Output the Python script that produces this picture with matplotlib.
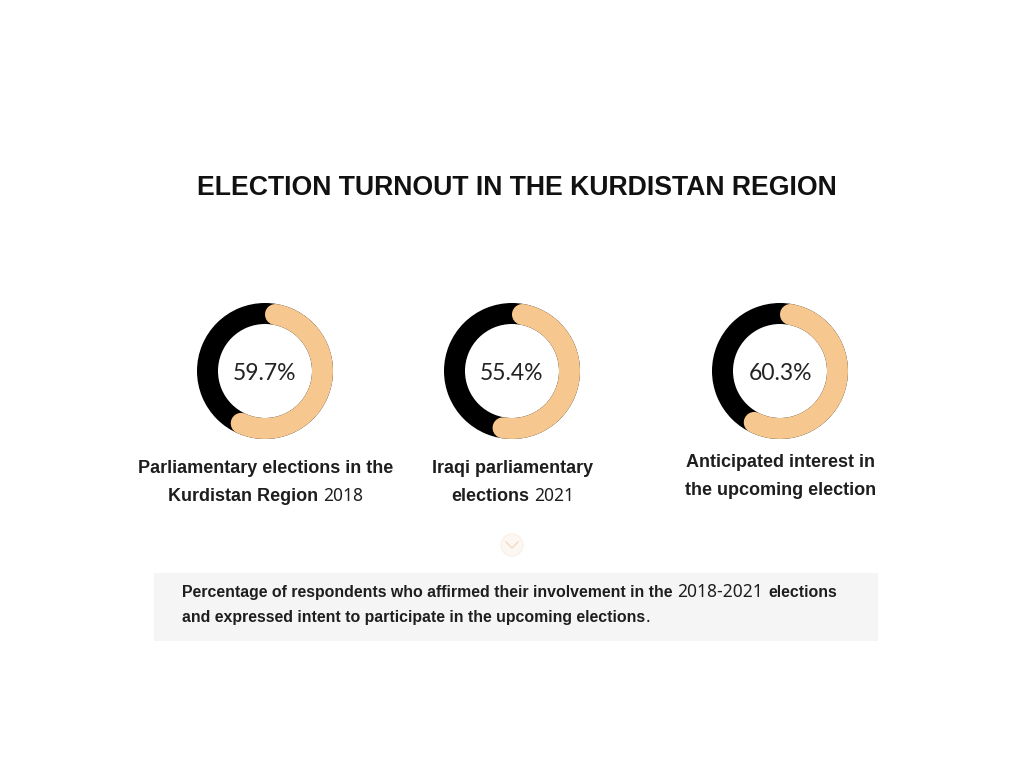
import numpy as np
import matplotlib.pyplot as plt
from matplotlib.patches import Wedge, Circle, Rectangle

# data
percents = [59.7, 55.4, 60.3]
pct_labels = ['59.7%', '55.4%', '60.3%']
label_lines = [
    [[('Parliamentary elections in the', 'b')], [('Kurdistan Region', 'b'), ('2018', 'n')]],
    [[('Iraqi parliamentary', 'b')], [('elections', 'b'), ('2021', 'n')]],
    [[('Anticipated interest in', 'b')], [('the upcoming election', 'b')]],
]
title = 'ELECTION TURNOUT IN THE KURDISTAN REGION'
note_lines = [
    [('Percentage of respondents who affirmed their involvement in the', 'c'), ('2018-2021', 'n'), ('elections', 'c')],
    [('and expressed intent to participate in the upcoming elections', 'c'), ('.', 'n')],
]

orange = '#f6c78e'
W, H = 1024, 768
fig = plt.figure(figsize=(W / 100, H / 100), dpi=100)
ax = fig.add_axes([0, 0, 1, 1])
ax.set_xlim(0, W)
ax.set_ylim(H, 0)
ax.axis('off')
renderer = fig.canvas.get_renderer()

fonts = {
    'b': dict(family=['Liberation Sans', 'DejaVu Sans'], weight='bold', fontsize=13.0, color='#1e1e1e'),
    'n': dict(family=['Noto Sans', 'DejaVu Sans'], fontsize=12.5, color='#1e1e1e'),
    'c': dict(family=['Liberation Sans Narrow', 'Liberation Sans'], weight='bold', fontsize=11.45, color='#1e1e1e'),
}


def draw_runs(x, y, runs, ha='center', gap=5):
    # place text runs with different fonts one after another
    items = []
    for s, f in runs:
        t = ax.text(0, y, s, va='baseline', ha='left', **fonts[f])
        w = t.get_window_extent(renderer).width
        items.append((t, w))
    total = sum(w for _, w in items) + gap * (len(items) - 1)
    cx = x - total / 2 if ha == 'center' else x
    for t, w in items:
        t.set_x(cx)
        cx += w + gap


ax.text(517, 195, title, ha='center', va='baseline', fontsize=19.2,
        fontweight='bold', family='Liberation Sans', color='#111111')

centers_x = [265, 512, 780]
cy = 371
r_out, width = 68, 21
r_mid = r_out - width / 2
cap = np.degrees((width / 2) / r_mid)
lw = width * 0.72
for cx, p, lab in zip(centers_x, percents, pct_labels):
    ax.add_patch(Wedge((cx, cy), r_out, 0, 360, width=width, color='black', lw=0))
    a0 = 90 - cap
    a1 = 90 - p / 100 * 360 + cap
    ang = np.radians(np.linspace(a0, a1, 200))
    ax.plot(cx + r_mid * np.cos(ang), cy - r_mid * np.sin(ang), color=orange,
            lw=lw, solid_capstyle='round')
    ax.text(cx, cy + 9, lab, ha='center', va='baseline', fontsize=16.5,
            family='Lato', color='#222222')

label_y = [[473, 501], [473, 501], [467, 495]]
for cx, lines, ys in zip(centers_x, label_lines, label_y):
    for runs, y in zip(lines, ys):
        draw_runs(cx + 1, y, runs)

# little chevron button
ax.add_patch(Circle((512, 545), 11, facecolor='#fcf7f2', edgecolor='#f8f0e8', lw=0.8))
ax.plot([506, 512, 518], [542, 548, 542], color='#f4dac0', lw=1.0)

# note box
ax.add_patch(Rectangle((154, 573), 724, 68, facecolor='#f5f5f5', edgecolor='none'))
draw_runs(182, 597, note_lines[0], ha='left', gap=5)
draw_runs(182, 622, note_lines[1], ha='left', gap=1)

fig.savefig('out.png', dpi=100, facecolor='white')
